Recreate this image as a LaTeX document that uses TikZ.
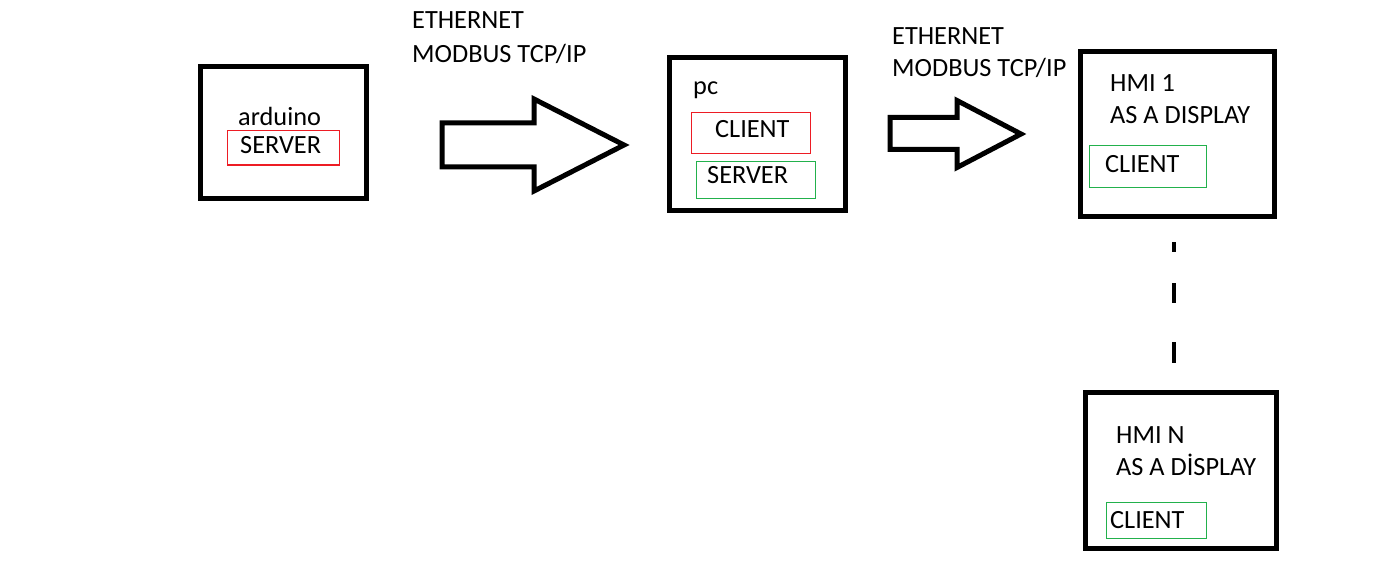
\documentclass[tikz,border=0pt]{standalone}
\usepackage{fontspec}
\setmainfont{Carlito}
\definecolor{pred}{RGB}{237,28,36}
\definecolor{pgreen}{RGB}{34,177,76}
\begin{document}
\begin{tikzpicture}[x=1pt,y=-1pt,
  bigbox/.style={draw=black, line width=5pt, inner sep=0pt, rectangle},
  redbox/.style={draw=pred, line width=1.2pt, inner sep=0pt, rectangle},
  greenbox/.style={draw=pgreen, line width=1.2pt, inner sep=0pt, rectangle},
  txt/.style={anchor=base west, inner sep=0pt, font=\fontsize{26.3}{30}\selectfont},
  blockarrow/.style={draw=black, line width=5pt, fill=white, line join=miter}]
\useasboundingbox[fill=white] (0,0) rectangle (1380,588);

% boxes
\node[bigbox, minimum width=166pt, minimum height=131.5pt] (ard) at (283.5,132.25) {};
\node[redbox, minimum width=112pt, minimum height=34.5pt] (ardsrv) at (283.2,147.7) {};
\node[bigbox, minimum width=176pt, minimum height=153pt] (pc) at (757.5,134) {};
\node[redbox, minimum width=119pt, minimum height=41pt] (pccli) at (751,133) {};
\node[greenbox, minimum width=119pt, minimum height=37pt] (pcsrv) at (756,180) {};
\node[bigbox, minimum width=194pt, minimum height=164.5pt] (hmi1) at (1177.5,133.75) {};
\node[greenbox, minimum width=117pt, minimum height=42pt] (hmi1cli) at (1148,166.5) {};
\node[bigbox, minimum width=191pt, minimum height=156pt] (hmin) at (1181,470.5) {};
\node[greenbox, minimum width=100pt, minimum height=36pt] (hmincli) at (1156.5,520.5) {};

% texts
\node[txt] (t1) at (238,126) {arduino};
\node[txt] (t2) at (240,154) {SERVER};
\node[txt] (t3) at (412,29) {ETHERNET};
\node[txt] (t4) at (412,63) {MODBUS TCP/IP};
\node[txt] (t5) at (693,95) {pc};
\node[txt] (t6) at (715,138) {CLIENT};
\node[txt] (t7) at (707,183) {SERVER};
\node[txt] (t8) at (892,45) {ETHERNET};
\node[txt] (t9) at (892,77) {MODBUS TCP/IP};
\node[txt] (t10) at (1110,92) {HMI 1};
\node[txt] (t11) at (1110,124) {AS A DISPLAY};
\node[txt] (t12) at (1105,173) {CLIENT};
\node[txt] (t13) at (1116,443) {HMI N};
\node[txt] (t14) at (1116,475) {AS A DİSPLAY};
\node[txt] (t15) at (1110,528) {CLIENT};

% block arrows
\draw[blockarrow] (442,123) -- (534,123) -- (534,99) -- (624,145) -- (534,191) -- (534,167) -- (442,167) -- cycle;
\draw[blockarrow] (890,117.5) -- (957,117.5) -- (957,100.5) -- (1021,134) -- (957,167.5) -- (957,149.5) -- (890,149.5) -- cycle;

% dashed link between HMI 1 and HMI N
\coordinate (d1) at (1174,242);
\coordinate (d2) at (1174,363);
\draw[line width=3.5pt, dash pattern=on 10pt off 31pt on 20pt off 39pt on 21pt off 10pt] (d1) -- (d2);
\end{tikzpicture}
\end{document}
